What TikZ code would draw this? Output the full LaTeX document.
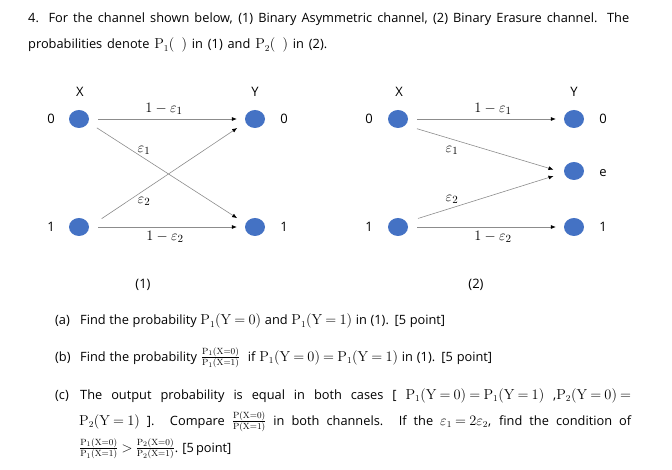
\documentclass[tikz,border=0pt]{standalone}
\usepackage[no-math]{fontspec}
\usepackage{amsmath}
\setmainfont{Open Sans}
\usetikzlibrary{arrows.meta,shapes.geometric}
\definecolor{dotblue}{HTML}{4472C4}
\definecolor{linkgray}{HTML}{8C8C8C}
\DeclareMathSizes{12.8}{14}{9}{7}
\tikzset{
  dot/.style={ellipse,fill=dotblue,minimum width=20pt,minimum height=18pt,inner sep=0pt},
  lab/.style={font=\fontsize{13}{15}\selectfont,inner sep=0pt},
  prob/.style={font=\fontsize{15.5}{17}\selectfont,inner sep=0pt},
  link/.style={draw=linkgray,line width=0.6pt,-{Latex[black,length=5pt,width=4pt]}},
  txt/.style={anchor=base west,inner sep=0pt,font=\fontsize{12.8}{14}\selectfont}
}
\newcommand{\Pp}[1]{\mathrm{P}_{#1}}
\newcommand{\Fr}[1]{\frac{\mathrm{P}_{#1}(\mathrm{X}{=}0)}{\mathrm{P}_{#1}(\mathrm{X}{=}1)}}
\newcommand{\lineto}[2]{\makebox[#1pt][s]{\thickmuskip=4mu \medmuskip=3mu #2}}
\newcommand{\qmark}[1]{\makebox[25pt][l]{#1}}
\begin{document}
\begin{tikzpicture}[x=1pt,y=-1pt]
      \useasboundingbox (0,0) rectangle (672,470);
      % Draw the text above
      \node (t1) [txt] at (28,23) {\lineto{601}{4. For the channel shown below, (1) Binary Asymmetric channel, (2) Binary Erasure channel. The}};
      \node (t2) [txt] at (28,49) {\lineto{299}{probabilities denote $\Pp{1}(\ \,)$ in (1) and $\Pp{2}(\ \,)$ in (2).}};
      % Draw channel (1)
      \node (xa0) [dot] at (79,119) {};
      \node (xa1) [dot] at (79,227) {};
      \node (ya0) [dot] at (255,119) {};
      \node (ya1) [dot] at (255,227) {};
      \node (xaname) [lab] at (80,92) {X};
      \node (yaname) [lab] at (255,92) {Y};
      \node (xa0lab) [lab] at (51,119) {0};
      \node (xa1lab) [lab] at (51,227) {1};
      \node (ya0lab) [lab] at (284,119) {0};
      \node (ya1lab) [lab] at (284,227) {1};
      \draw [link,shorten <=9pt,shorten >=8pt] (xa0) -- (ya0);
      \draw [link,shorten <=9pt,shorten >=8pt] (xa1) -- (ya1);
      \draw [link,shorten <=10pt,shorten >=10pt] (xa0.-20) -- (ya1.160);
      \draw [link,shorten <=15pt,shorten >=10pt] (xa1.east) -- (ya0.-160);
      \node (pa1) [prob] at (164,109) {$1-\varepsilon_1$};
      \node (pa2) [prob] at (144,150) {$\varepsilon_1$};
      \node (pa3) [prob] at (144,201) {$\varepsilon_2$};
      \node (pa4) [prob] at (165,237) {$1-\varepsilon_2$};
      \node (capa) [lab] at (143,285) {(1)};
      % Draw channel (2)
      \node (xb0) [dot] at (398,119) {};
      \node (xb1) [dot] at (398,227) {};
      \node (yb0) [dot] at (574,119) {};
      \node (ybe) [dot] at (574,171) {};
      \node (yb1) [dot] at (574,227) {};
      \node (xbname) [lab] at (399,92) {X};
      \node (ybname) [lab] at (574,92) {Y};
      \node (xb0lab) [lab] at (369,119) {0};
      \node (xb1lab) [lab] at (369,227) {1};
      \node (yb0lab) [lab] at (603,119) {0};
      \node (ybelab) [lab] at (603,173) {e};
      \node (yb1lab) [lab] at (603,227) {1};
      \draw [link,shorten <=9pt,shorten >=8pt] (xb0) -- (yb0);
      \draw [link,shorten <=9pt,shorten >=8pt] (xb1) -- (yb1);
      \draw [link,shorten <=12pt,shorten >=11pt] (xb0.-40) -- (ybe.190);
      \draw [link,shorten <=12pt,shorten >=11pt] (xb1.30) -- (ybe.-170);
      \node (pb1) [prob] at (493,109) {$1-\varepsilon_1$};
      \node (pb2) [prob] at (452,150) {$\varepsilon_1$};
      \node (pb3) [prob] at (452,199) {$\varepsilon_2$};
      \node (pb4) [prob] at (493,237) {$1-\varepsilon_2$};
      \node (capb) [lab] at (476,285) {(2)};
      % Draw the questions
      \node (qa) [txt] at (55,325) {\lineto{390}{\qmark{(a)}Find the probability $\Pp{1}(\mathrm{Y}=0)$ and $\Pp{1}(\mathrm{Y}=1)$ in (1). [5 point]}};
      \node (qb) [txt] at (55,361) {\lineto{437}{\qmark{(b)}Find the probability $\Fr{1}$\ \ if $\Pp{1}(\mathrm{Y}=0)=\Pp{1}(\mathrm{Y}=1)$ in (1). [5 point]}};
      \node (qc) [txt] at (55,399) {\lineto{576}{\qmark{(c)}The output probability is equal in both cases [ $\Pp{1}(\mathrm{Y}=0)=\Pp{1}(\mathrm{Y}=1)$ ,$\Pp{2}(\mathrm{Y}=0)=$}};
      \node (qd) [txt] at (79,425) {\lineto{552}{$\Pp{2}(\mathrm{Y}=1)$ ]. Compare $\frac{\mathrm{P}(\mathrm{X}{=}0)}{\mathrm{P}(\mathrm{X}{=}1)}$ in both channels. If the $\varepsilon_1=2\varepsilon_2$, find the condition of}};
      \node (qe) [txt] at (79,452) {\lineto{150}{$\Fr{1}>\Fr{2}$. [5 point]}};
\end{tikzpicture}
\end{document}
